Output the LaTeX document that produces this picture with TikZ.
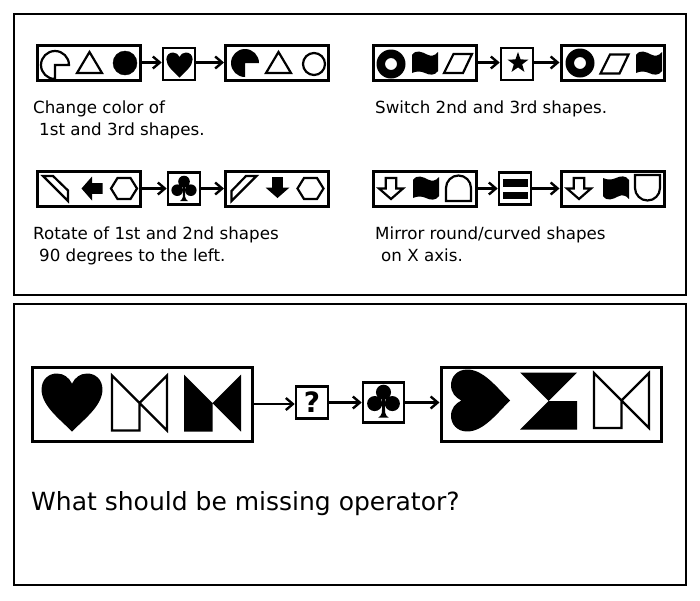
\documentclass[tikz,border=0pt]{standalone}
\usepackage{fontspec}
\usepackage{amsmath}
\usepackage{tikz}
\usetikzlibrary{arrows.meta}
\setmainfont{DejaVu Sans}

\tikzset{
    panel/.style={draw, line width=2.4pt, minimum width=672pt, minimum height=281pt},
    rowbox/.style={draw, line width=3pt, minimum width=103pt, minimum height=35pt},
    bigbox/.style={draw, line width=3pt, minimum width=220pt, minimum height=74pt},
    opbox/.style={draw, line width=2.6pt, minimum width=32pt, minimum height=32pt, inner sep=0pt},
    flow/.style={line width=2.6pt, -{Straight Barb[length=7pt,width=12pt,line width=2.4pt]}},
    caption/.style={anchor=north west, align=left, inner sep=0pt, font=\fontsize{16.7}{22}\selectfont},
    blackshape/.style={fill=black},
    whiteshape/.style={draw=black, line width=2.2pt, line join=miter},
    pics/heart/.style={code={
        \path[pic actions] (0,10) .. controls (-4.5,5.5) and (-10.5,1) .. (-10.5,-4.5)
            .. controls (-10.5,-8) and (-8,-10) .. (-5.2,-10)
            .. controls (-2.7,-10) and (-1,-8.5) .. (0,-6.5)
            .. controls (1,-8.5) and (2.7,-10) .. (5.2,-10)
            .. controls (8,-10) and (10.5,-8) .. (10.5,-4.5)
            .. controls (10.5,1) and (4.5,5.5) .. (0,10) -- cycle;
    }},
    pics/bowtie/.style={code={
        \path[pic actions] (-10,-10) -- (10,10) -- (10,-10) -- (0,0) -- (0,10) -- (-10,10) -- cycle;
    }},
    pics/pacman/.style={code={
        \path[pic actions] (0,0) -- (14,0) arc[start angle=0, end angle=-270, radius=14] -- cycle;
    }},
    pics/triangle/.style={code={
        \path[pic actions] (0,-11) -- (12.5,10) -- (-12.5,10) -- cycle;
    }},
    pics/disk/.style={code={
        \path[pic actions, even odd rule] (0,0) circle[radius=14.5] (0,0) circle[radius=6];
    }},
    pics/flag/.style={code={
        \path[pic actions] (-13,-8) .. controls (-9,-14) and (-3,-11) .. (2,-8.5)
            .. controls (6,-6.5) and (10,-7) .. (13,-11) -- (13,8)
            .. controls (10,13) and (4,12) .. (0,10)
            .. controls (-4,8) and (-9,8) .. (-13,10) -- cycle;
    }},
    pics/lean/.style={code={
        \path[pic actions] (-14,9.5) -- (-4.5,-9.5) -- (14,-9.5) -- (5,9.5) -- cycle;
    }},
    pics/star/.style={code={
        \path[pic actions] (-90:11) -- (-54:4.4) -- (-18:11) -- (18:4.4) -- (54:11) -- (90:4.4)
            -- (126:11) -- (162:4.4) -- (198:11) -- (234:4.4) -- cycle;
    }},
    pics/club/.style={code={
        \fill (0,-7.5) circle[radius=5.8] (-6.8,1.2) circle[radius=5.8] (6.8,1.2) circle[radius=5.8];
        \fill (-1,-3) -- (1,-3) -- (1.2,8) .. controls (1.5,10) and (2.5,11) .. (4,12)
            -- (-4,12) .. controls (-2.5,11) and (-1.5,10) .. (-1.2,8) -- cycle;
    }},
    pics/wedge/.style={code={
        \path[pic actions] (-12.5,-12.5) -- (-2.5,-12.5) -- (12.5,2) -- (12.5,12.5) -- cycle;
    }},
    pics/hexa/.style={code={
        \path[pic actions] (-13,0) -- (-6.5,-10.5) -- (6.5,-10.5) -- (13,0) -- (6.5,10.5) -- (-6.5,10.5) -- cycle;
    }},
    pics/downarrow/.style={code={
        \path[pic actions] (0,10.5) -- (-12,0) -- (-5.3,0) -- (-5.3,-10.5) -- (5.3,-10.5) -- (5.3,0) -- (12,0) -- cycle;
    }},
    pics/arch/.style={code={
        \path[pic actions] (-12.5,13) -- (-12.5,0) arc[start angle=180, end angle=360, radius=12.5] -- (12.5,13) -- cycle;
    }},
}

\begin{document}
\begin{tikzpicture}[x=1pt, y=-1pt]
    \useasboundingbox (0,0) rectangle (700,600);
    \node at (350,154.5) [panel] (top) {};
    \node at (350,444.5) [panel] (bottom) {};

    % first row
    \node at (89,62.5) [rowbox] (a1) {};
    \node at (179,64) [opbox] (a2) {};
    \node at (277,62.5) [rowbox] (a3) {};
    \draw[flow] (a1.east) -- (a1.east -| a2.west);
    \draw[flow] (a3.west -| a2.east) -- (a3.west);
    \pic [whiteshape] at (55,65) {pacman};
    \pic [whiteshape] at (89.5,63) {triangle};
    \draw[blackshape] (125,63) circle[radius=12];
    \pic [blackshape, scale=1.25] at (179.5,65) {heart};
    \pic [blackshape] at (245,63) {pacman};
    \pic [whiteshape] at (278.5,63) {triangle};
    \draw[whiteshape] (314,64) circle[radius=11];
    \node at (33,101) [caption] (a4) {Change color of\\\hspace*{6pt}1st and 3rd shapes.};

    \node at (425,62.5) [rowbox] (b1) {};
    \node at (517,64) [opbox] (b2) {};
    \node at (612.5,62.5) [rowbox] (b3) {};
    \draw[flow] (b1.east) -- (b1.east -| b2.west);
    \draw[flow] (b3.west -| b2.east) -- (b3.west);
    \pic [blackshape] at (391,64) {disk};
    \pic [blackshape] at (425,63) {flag};
    \pic [whiteshape] at (458,63.5) {lean};
    \pic [blackshape] at (518,63) {star};
    \pic [blackshape] at (580,63) {disk};
    \pic [whiteshape] at (614.5,64) {lean};
    \pic [blackshape] at (649,63) {flag};
    \node at (375,101) [caption] (b4) {Switch 2nd and 3rd shapes.};

    % second row
    \node at (89,188.5) [rowbox] (c1) {};
    \node at (184,188.5) [opbox] (c2) {};
    \node at (277,188.5) [rowbox] (c3) {};
    \draw[flow] (c1) -- (c2);
    \draw[flow] (c2) -- (c3);
    \pic [whiteshape] at (55.5,188.5) {wedge};
    \pic [blackshape, rotate=-90] at (92,188.5) {downarrow};
    \pic [whiteshape] at (124,188.5) {hexa};
    \pic at (184,189) {club};
    \pic [whiteshape, rotate=90] at (244,188.5) {wedge};
    \pic [blackshape] at (277.5,187.5) {downarrow};
    \pic [whiteshape] at (310.5,188.5) {hexa};
    \node at (33,227) [caption] (c4) {Rotate of 1st and 2nd shapes\\\hspace*{6pt}90 degrees to the left.};

    \node at (425,188.5) [rowbox] (d1) {};
    \node at (515,188.5) [opbox] (d2) {};
    \node at (612.5,188.5) [rowbox] (d3) {};
    \draw[flow] (d1) -- (d2);
    \draw[flow] (d2) -- (d3);
    \pic [whiteshape] at (391,188.5) {downarrow};
    \pic [blackshape] at (426,188) {flag};
    \pic [whiteshape] at (458.5,188) {arch};
    \fill (502.5,179) rectangle (527.5,186.5);
    \fill (502.5,191.5) rectangle (527.5,199);
    \pic [whiteshape] at (579,188.5) {downarrow};
    \pic [blackshape, yscale=-1] at (616,188) {flag};
    \pic [whiteshape, yscale=-1] at (647.5,188) {arch};
    \node at (375,227) [caption] (d4) {Mirror round/curved shapes\\\hspace*{6pt}on X axis.};

    % question
    \node at (142,404) [bigbox] (e1) {};
    \node at (312,402.5) [opbox, font=\fontsize{28}{28}\selectfont\bfseries] (e2) {?};
    \node at (383.5,402.5) [opbox, minimum width=41pt, minimum height=40pt] (e3) {};
    \node at (551,404) [bigbox] (e4) {};
    \draw[flow] (e1.east) -- (e1.east -| e2.west);
    \draw[flow] (e2) -- (e3);
    \draw[flow] (e3.east) -- (e3.east -| e4.west);
    \pic [blackshape, scale=2.9] at (72,402.5) {heart};
    \pic [whiteshape, scale=2.75] at (139.5,403) {bowtie};
    \pic [blackshape, scale=2.85] at (212.5,403) {bowtie};
    \pic [scale=1.3] at (383.5,402) {club};
    \pic [blackshape, scale=2.95, rotate=90] at (480.5,400.5) {heart};
    \pic [blackshape, scale=2.85, rotate=90] at (548.5,401) {bowtie};
    \pic [whiteshape, scale=2.75] at (621.5,400.5) {bowtie};
    \node at (31,491) [caption, font=\fontsize{25}{30}\selectfont] (e5) {What should be missing operator?};
\end{tikzpicture}
\end{document}
